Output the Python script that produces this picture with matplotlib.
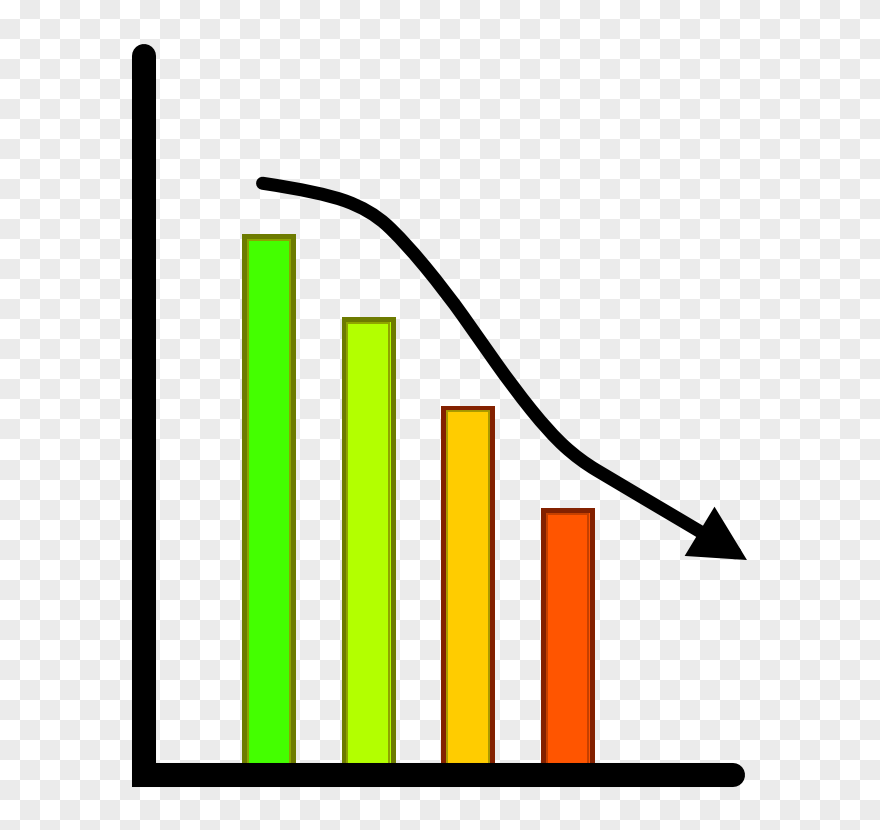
import matplotlib
matplotlib.use("Agg")
import matplotlib.pyplot as plt
import numpy as np
from matplotlib.colors import ListedColormap
from matplotlib.patches import FancyArrowPatch
from matplotlib.path import Path

# bar values (axis runs 0..100)
categories = [0, 1, 2, 3]
values = [74.9, 63.4, 51.1, 36.8]
fill_colors = ["#44ff00", "#b3ff00", "#ffcc00", "#ff5500"]
edge_colors = ["#6d7b00", "#6d7b00", "#832100", "#832100"]
band_colors = ["#8fa300", "#8fa300", "#a89a00", "#c44000"]

# hand-drawn downward trend arrow
trend_x = [-0.06, 0.52, 1.02, 1.35, 1.79, 2.12, 2.45, 2.82, 3.12, 3.46, 3.80, 4.13, 4.30, 4.80]
trend_y = [82.3, 81.1, 78.6, 74.4, 67.0, 60.5, 54.0, 47.6, 43.8, 41.0, 38.2, 35.5, 34.1, 29.9]

W, H = 880, 830
fig = plt.figure(figsize=(W / 100, H / 100), dpi=100)

# transparent-style checkerboard background
bg = fig.add_axes([0, 0, 1, 1], zorder=0)
rows, cols = np.indices((H // 20 + 1, W // 20))
board = (rows + cols) % 2
bg.imshow(board, cmap=ListedColormap(["#ffffff", "#ebebeb"]), extent=(0, W, (H // 20 + 1) * 20, 0),
          interpolation="nearest", aspect="auto")
bg.set_xlim(0, W)
bg.set_ylim(H, 0)
bg.axis("off")

ax = fig.add_axes([144 / W, (H - 775) / H, (733 - 144) / W, (775 - 56) / H], zorder=1)
ax.patch.set_alpha(0)
ax.set_xlim(-1.25, 4.66)
ax.set_ylim(0, 100)
for s in ax.spines.values():
    s.set_visible(False)
ax.set_xticks([])
ax.set_yticks([])

ax.bar(categories, values, width=0.49, color=fill_colors, edgecolor=edge_colors,
       linewidth=3.6, zorder=2)
# thin lighter band just inside the dark outline
ax.bar(categories, [v - 0.49 for v in values], width=0.42, color="none", edgecolor=band_colors,
       linewidth=1.4, zorder=2.1)

# thick black axes with rounded ends
ax.plot([0, 0, 1], [1, 0, 0], transform=ax.transAxes, color="black", linewidth=17.3,
        solid_capstyle="round", solid_joinstyle="miter", clip_on=False, zorder=3)

pts = list(zip(trend_x, trend_y))
verts = [pts[0]]
codes = [Path.MOVETO]
for i in range(1, len(pts) - 2):
    nxt = pts[i + 1] if i == len(pts) - 3 else ((pts[i][0] + pts[i + 1][0]) / 2, (pts[i][1] + pts[i + 1][1]) / 2)
    verts += [pts[i], nxt]
    codes += [Path.CURVE3, Path.CURVE3]
verts.append(pts[-1])
codes.append(Path.LINETO)

arrow = FancyArrowPatch(path=Path(verts, codes), arrowstyle="-|>,head_length=25,head_width=13",
                        color="black", linewidth=9.4, capstyle="round", joinstyle="miter",
                        transform=ax.transData, clip_on=False, zorder=4)
ax.add_patch(arrow)

fig.savefig("out.png", dpi=100)
